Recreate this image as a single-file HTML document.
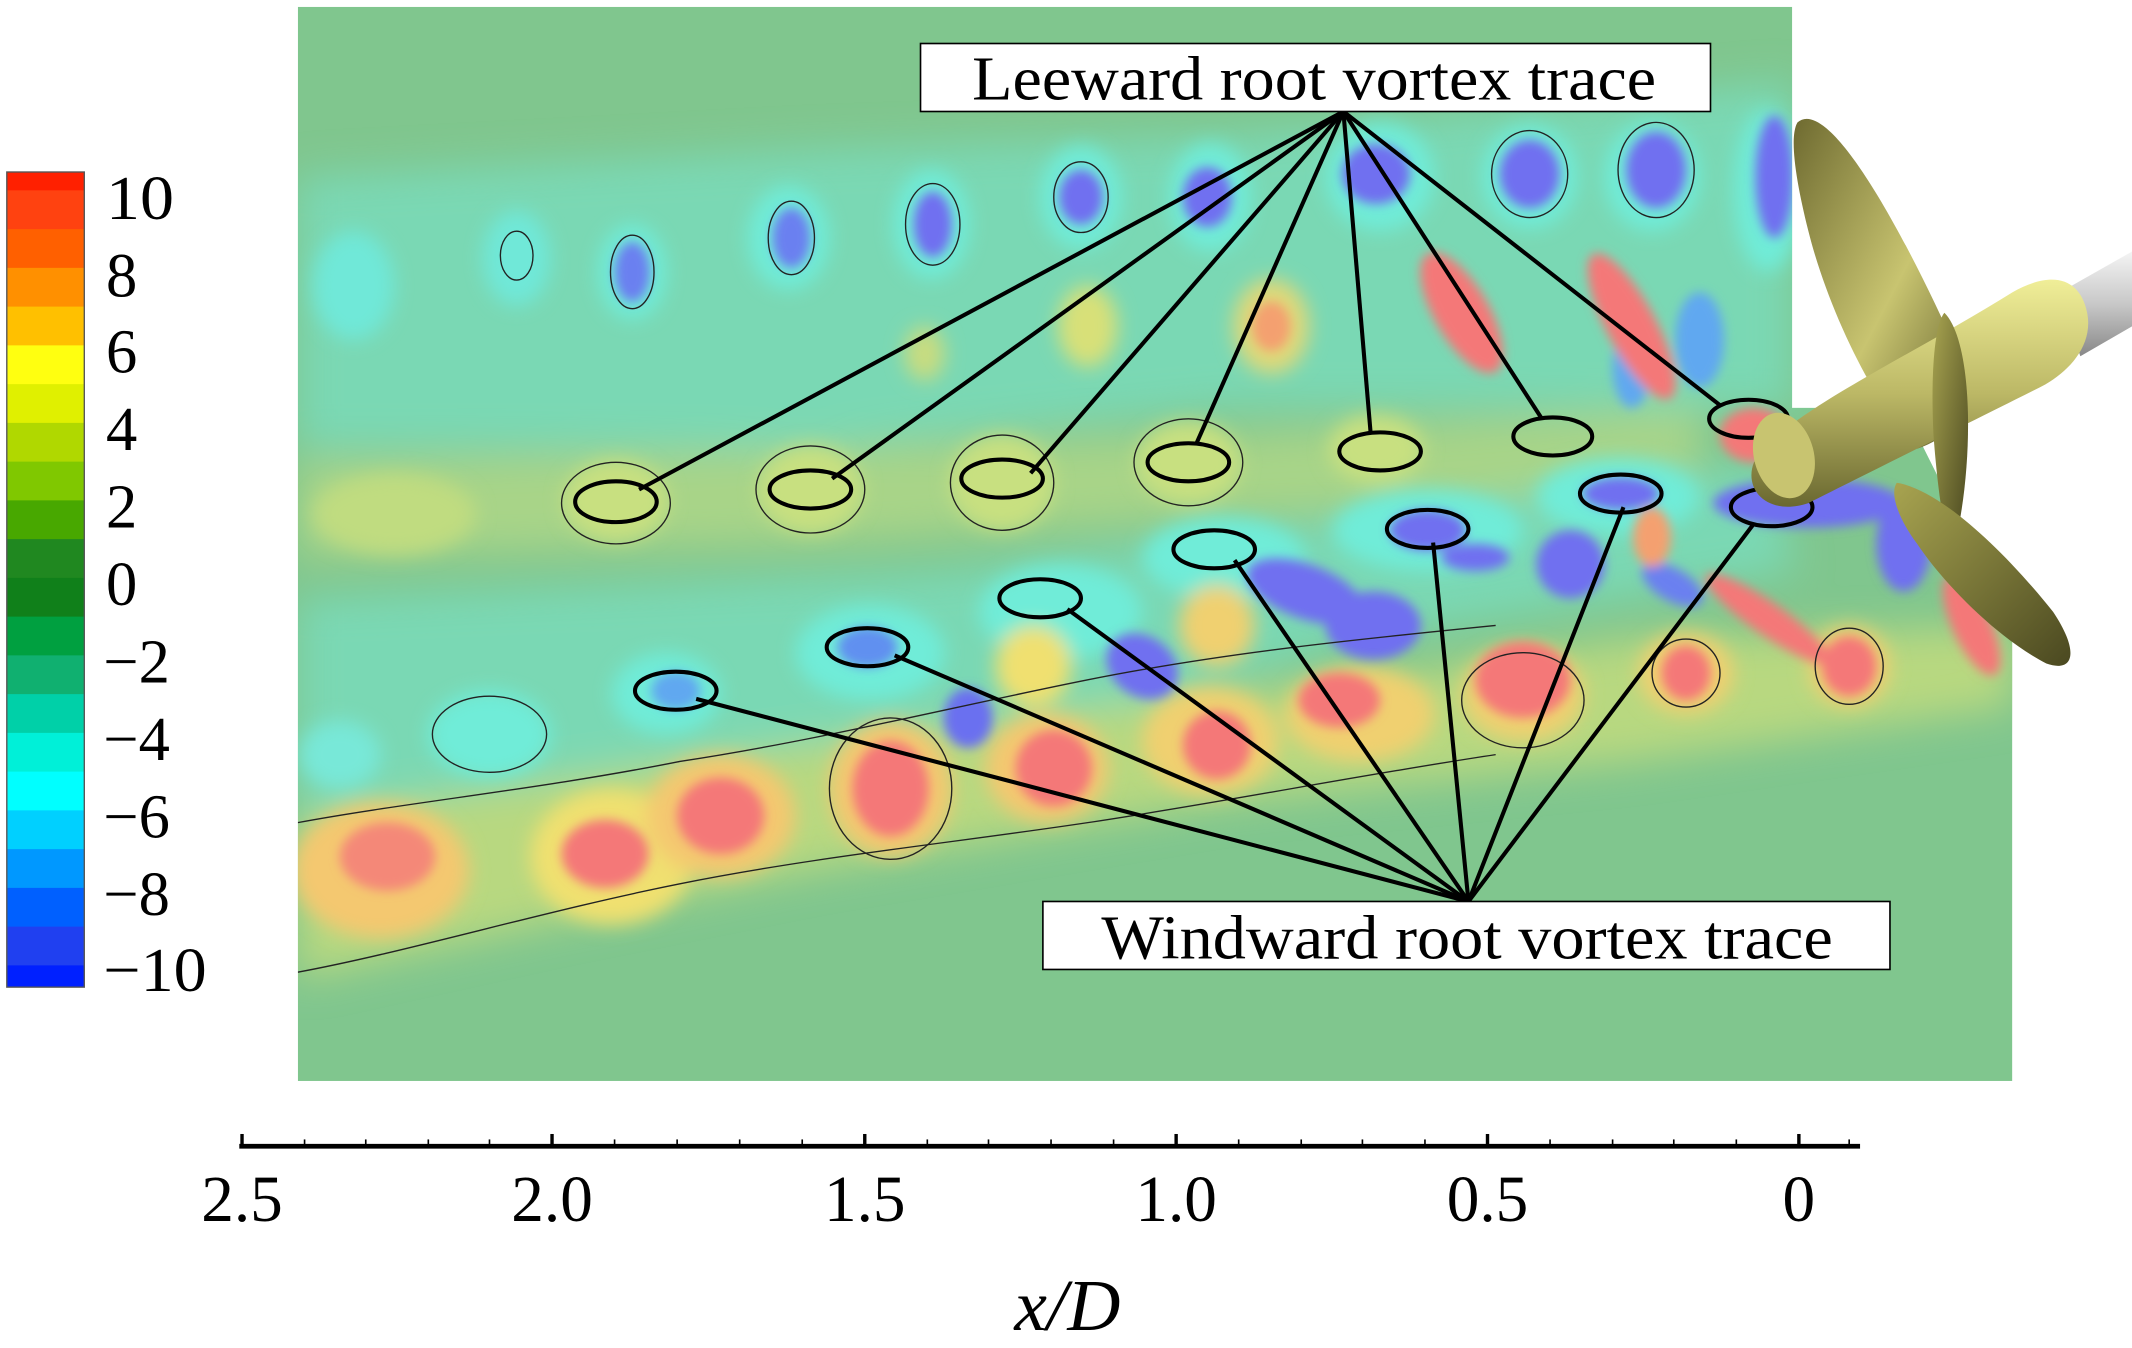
<!DOCTYPE html>
<html><head><meta charset="utf-8"><style>
html,body{margin:0;padding:0;background:#fff;}
svg{display:block;}
</style></head><body>
<svg width="2132" height="1348" viewBox="0 0 1568 991.4" xmlns="http://www.w3.org/2000/svg" font-family="Liberation Serif, serif">
<defs>
<filter id="b1" x="-50%" y="-50%" width="200%" height="200%"><feGaussianBlur stdDeviation="14"/></filter>
<filter id="b2" x="-50%" y="-50%" width="200%" height="200%"><feGaussianBlur stdDeviation="7"/></filter>
<filter id="b3" x="-50%" y="-50%" width="200%" height="200%"><feGaussianBlur stdDeviation="4"/></filter>
<clipPath id="fc"><polygon points="219,5 1318,5 1318,300 1400,300 1480,460 1480,795 219,795"/></clipPath>
<linearGradient id="hub" x1="0" y1="0" x2="0" y2="1"><stop offset="0" stop-color="#f0ee98"/><stop offset="0.5" stop-color="#bcb866"/><stop offset="1" stop-color="#6a6830"/></linearGradient>
<linearGradient id="bl" x1="0" y1="0" x2="1" y2="1"><stop offset="0" stop-color="#6e6a30"/><stop offset="0.55" stop-color="#c8c470"/><stop offset="1" stop-color="#5c5a28"/></linearGradient>
<linearGradient id="bl2" x1="0" y1="0" x2="1" y2="1"><stop offset="0" stop-color="#a8a450"/><stop offset="1" stop-color="#4a4820"/></linearGradient>
<linearGradient id="sh" x1="0" y1="0" x2="0" y2="1"><stop offset="0" stop-color="#f4f4f4"/><stop offset="0.5" stop-color="#c8c8c8"/><stop offset="1" stop-color="#888"/></linearGradient>
</defs>

<!-- colorbar -->
<g>
<rect x="5" y="126.5" width="57" height="14" fill="#ff2000"/>
<rect x="5" y="140" width="57" height="29" fill="#ff4210"/>
<rect x="5" y="168.5" width="57" height="29" fill="#ff6000"/>
<rect x="5" y="197" width="57" height="29" fill="#ff9000"/>
<rect x="5" y="225.5" width="57" height="29" fill="#ffc000"/>
<rect x="5" y="254" width="57" height="29" fill="#ffff10"/>
<rect x="5" y="282.5" width="57" height="29" fill="#e0f000"/>
<rect x="5" y="311" width="57" height="29" fill="#b0d800"/>
<rect x="5" y="339.5" width="57" height="29" fill="#80c800"/>
<rect x="5" y="368" width="57" height="29" fill="#48a800"/>
<rect x="5" y="396.5" width="57" height="29" fill="#208820"/>
<rect x="5" y="425" width="57" height="29" fill="#10801a"/>
<rect x="5" y="453.5" width="57" height="29" fill="#00a040"/>
<rect x="5" y="482" width="57" height="29" fill="#10b070"/>
<rect x="5" y="510.5" width="57" height="29" fill="#00d0a8"/>
<rect x="5" y="539" width="57" height="29" fill="#00f0d8"/>
<rect x="5" y="567.5" width="57" height="29" fill="#00ffff"/>
<rect x="5" y="596" width="57" height="29" fill="#00d0ff"/>
<rect x="5" y="624.5" width="57" height="29" fill="#0098ff"/>
<rect x="5" y="653" width="57" height="29" fill="#0060ff"/>
<rect x="5" y="681.5" width="57" height="29" fill="#2040f0"/>
<rect x="5" y="710" width="57" height="16" fill="#0020ff"/>
<rect x="5" y="126.5" width="57" height="599.5" fill="none" stroke="#555" stroke-width="1"/>
<g font-size="46" fill="#000">
<text x="78" y="161" textLength="50" lengthAdjust="spacingAndGlyphs">10</text>
<text x="78" y="218">8</text>
<text x="78" y="274">6</text>
<text x="78" y="331">4</text>
<text x="78" y="388">2</text>
<text x="78" y="445">0</text>
<text x="76" y="502">−2</text>
<text x="76" y="559">−4</text>
<text x="76" y="616">−6</text>
<text x="76" y="673">−8</text>
<text x="76" y="729" textLength="76" lengthAdjust="spacingAndGlyphs">−10</text>
</g>
</g>

<!-- field -->
<g clip-path="url(#fc)">
<rect x="219" y="5" width="1261" height="790" fill="#80c68e"/>
<g filter="url(#b1)">
<polygon points="219,130 600,110 900,100 1318,60 1318,300 1100,300 900,300 600,330 219,330" fill="#7ad8b4"/>
<polygon points="219,340 600,330 900,320 1250,300 1250,360 900,380 600,400 219,410" fill="#a8d488"/>
<polygon points="219,440 700,420 1000,380 1300,340 1320,420 1000,470 700,560 400,600 219,600" fill="#7ad8b4"/>
<polygon points="219,600 500,560 800,520 1000,500 1200,470 1480,460 1480,520 1200,560 900,590 600,640 400,680 219,720" fill="#b8d880"/>
</g>
<g filter="url(#b2)">
<ellipse cx="260" cy="210" rx="30" ry="40" fill="#70e8d8"/>
<ellipse cx="380" cy="190" rx="25" ry="35" fill="#70e8d8"/>
<ellipse cx="465" cy="200" rx="25" ry="35" fill="#70ecd8"/>
<ellipse cx="580" cy="175" rx="30" ry="38" fill="#70ecd8"/>
<ellipse cx="685" cy="165" rx="28" ry="40" fill="#70ecd8"/>
<ellipse cx="795" cy="145" rx="30" ry="38" fill="#70ecd8"/>
<ellipse cx="890" cy="145" rx="30" ry="40" fill="#70ecd8"/>
<ellipse cx="1015" cy="130" rx="40" ry="40" fill="#70ecd8"/>
<ellipse cx="1125" cy="130" rx="35" ry="38" fill="#70ecd8"/>
<ellipse cx="1215" cy="130" rx="35" ry="40" fill="#70ecd8"/>
<ellipse cx="1300" cy="140" rx="25" ry="60" fill="#70ecd8"/>
<ellipse cx="360" cy="540" rx="45" ry="32" fill="#70ecd8"/>
<ellipse cx="250" cy="555" rx="30" ry="25" fill="#78e8d8"/>
<ellipse cx="490" cy="510" rx="40" ry="30" fill="#70ecd8"/>
<ellipse cx="640" cy="480" rx="55" ry="35" fill="#70ecd8"/>
<ellipse cx="780" cy="450" rx="60" ry="35" fill="#70ecd8"/>
<ellipse cx="900" cy="410" rx="60" ry="30" fill="#70ecd8"/>
<ellipse cx="1050" cy="390" rx="70" ry="30" fill="#70ecd8"/>
<ellipse cx="1190" cy="365" rx="60" ry="28" fill="#70ecd8"/>
<ellipse cx="453" cy="368" rx="38" ry="30" fill="#c8e080"/>
<ellipse cx="596" cy="360" rx="38" ry="32" fill="#c8e080"/>
<ellipse cx="737" cy="355" rx="38" ry="35" fill="#c8e080"/>
<ellipse cx="874" cy="340" rx="38" ry="30" fill="#c8e080"/>
<ellipse cx="1012" cy="330" rx="35" ry="25" fill="#c8e080"/>
<ellipse cx="290" cy="378" rx="60" ry="30" fill="#c0dc80"/>
<ellipse cx="800" cy="240" rx="22" ry="30" fill="#d8e078"/>
<ellipse cx="935" cy="240" rx="28" ry="35" fill="#e0d878"/>
<ellipse cx="680" cy="260" rx="15" ry="20" fill="#c8dc80"/>
<ellipse cx="280" cy="640" rx="65" ry="50" fill="#f4c870"/>
<ellipse cx="450" cy="630" rx="60" ry="50" fill="#f0e070"/>
<ellipse cx="530" cy="600" rx="55" ry="45" fill="#f4c870"/>
<ellipse cx="655" cy="580" rx="45" ry="50" fill="#f4c870"/>
<ellipse cx="770" cy="565" rx="45" ry="40" fill="#f4c870"/>
<ellipse cx="890" cy="545" rx="50" ry="40" fill="#f0d070"/>
<ellipse cx="1000" cy="525" rx="55" ry="35" fill="#f0d070"/>
<ellipse cx="1120" cy="510" rx="45" ry="35" fill="#f0d070"/>
<ellipse cx="1240" cy="495" rx="35" ry="30" fill="#f0d070"/>
<ellipse cx="1360" cy="490" rx="30" ry="30" fill="#f0d070"/>
<ellipse cx="760" cy="490" rx="28" ry="30" fill="#f0e070"/>
<ellipse cx="895" cy="460" rx="28" ry="30" fill="#f0d070"/>
</g>
<g filter="url(#b3)">
<ellipse cx="465" cy="200" rx="13" ry="22" fill="#6a80f0"/>
<ellipse cx="582" cy="175" rx="14" ry="22" fill="#6a80f0"/>
<ellipse cx="686" cy="165" rx="14" ry="24" fill="#7070f0"/>
<ellipse cx="795" cy="145" rx="16" ry="20" fill="#7070f0"/>
<ellipse cx="888" cy="145" rx="18" ry="22" fill="#7070f0"/>
<ellipse cx="1012" cy="128" rx="25" ry="22" fill="#7070f0"/>
<ellipse cx="1125" cy="128" rx="22" ry="25" fill="#7070f0"/>
<ellipse cx="1218" cy="125" rx="22" ry="28" fill="#7070f0"/>
<ellipse cx="1305" cy="130" rx="14" ry="45" fill="#7070f0"/>
<ellipse cx="1200" cy="270" rx="14" ry="30" fill="#60a8f0"/>
<ellipse cx="1250" cy="250" rx="18" ry="35" fill="#60a8f0"/>
<ellipse cx="497" cy="508" rx="18" ry="14" fill="#60a8f0"/>
<ellipse cx="638" cy="476" rx="22" ry="15" fill="#6090f0"/>
<ellipse cx="712" cy="528" rx="18" ry="22" fill="#6a70f0"/>
<ellipse cx="840" cy="490" rx="28" ry="22" fill="#7070f0" transform="rotate(35 840 490)"/>
<ellipse cx="960" cy="435" rx="45" ry="20" fill="#7070f0" transform="rotate(20 960 435)"/>
<ellipse cx="1010" cy="460" rx="35" ry="25" fill="#7070f0"/>
<ellipse cx="1050" cy="390" rx="28" ry="15" fill="#7070f0"/>
<ellipse cx="1155" cy="415" rx="25" ry="25" fill="#7070f0"/>
<ellipse cx="1085" cy="410" rx="25" ry="10" fill="#7070f0"/>
<ellipse cx="1192" cy="363" rx="28" ry="12" fill="#7070f0"/>
<ellipse cx="1330" cy="370" rx="70" ry="18" fill="#7070f0"/>
<ellipse cx="1400" cy="400" rx="20" ry="35" fill="#7070f0"/>
<ellipse cx="1230" cy="430" rx="25" ry="12" fill="#6a80f0" transform="rotate(30 1230 430)"/>
<ellipse cx="1075" cy="230" rx="20" ry="50" fill="#f47878" transform="rotate(-30 1075 230)"/>
<ellipse cx="1200" cy="240" rx="18" ry="60" fill="#f47878" transform="rotate(-28 1200 240)"/>
<ellipse cx="1290" cy="320" rx="25" ry="20" fill="#f47878"/>
<ellipse cx="935" cy="240" rx="14" ry="18" fill="#f4a070"/>
<ellipse cx="285" cy="630" rx="35" ry="25" fill="#f48878"/>
<ellipse cx="445" cy="628" rx="32" ry="25" fill="#f47878"/>
<ellipse cx="530" cy="600" rx="32" ry="28" fill="#f47878"/>
<ellipse cx="655" cy="580" rx="28" ry="35" fill="#f47878"/>
<ellipse cx="775" cy="565" rx="28" ry="28" fill="#f47878"/>
<ellipse cx="895" cy="548" rx="25" ry="25" fill="#f47878"/>
<ellipse cx="985" cy="515" rx="30" ry="20" fill="#f47878"/>
<ellipse cx="1120" cy="500" rx="35" ry="28" fill="#f47878"/>
<ellipse cx="1240" cy="495" rx="18" ry="20" fill="#f47878"/>
<ellipse cx="1360" cy="490" rx="20" ry="22" fill="#f47878"/>
<ellipse cx="1300" cy="455" rx="55" ry="12" fill="#f47878" transform="rotate(35 1300 455)"/>
<ellipse cx="1450" cy="460" rx="14" ry="40" fill="#f47878" transform="rotate(-25 1450 460)"/>
<ellipse cx="1215" cy="395" rx="14" ry="22" fill="#f4a070"/>
</g>
<g fill="none" stroke="#222" stroke-width="1">
<path d="M219,605 C300,590 400,580 500,560 C600,545 700,520 800,500 C900,480 1000,470 1100,460"/>
<path d="M219,715 C300,700 400,670 500,650 C600,630 700,620 800,605 C900,590 1000,570 1100,555"/>
<ellipse cx="465" cy="200" rx="16" ry="27"/>
<ellipse cx="582" cy="175" rx="17" ry="27"/>
<ellipse cx="686" cy="165" rx="20" ry="30"/>
<ellipse cx="795" cy="145" rx="20" ry="26"/>
<ellipse cx="1125" cy="128" rx="28" ry="32"/>
<ellipse cx="1218" cy="125" rx="28" ry="35"/>
<ellipse cx="380" cy="188" rx="12" ry="18"/>
<ellipse cx="453" cy="370" rx="40" ry="30"/>
<ellipse cx="596" cy="360" rx="40" ry="32"/>
<ellipse cx="737" cy="355" rx="38" ry="35"/>
<ellipse cx="874" cy="340" rx="40" ry="32"/>
<ellipse cx="655" cy="580" rx="45" ry="52"/>
<ellipse cx="360" cy="540" rx="42" ry="28"/>
<ellipse cx="1360" cy="490" rx="25" ry="28"/>
<ellipse cx="1240" cy="495" rx="25" ry="25"/>
<ellipse cx="1120" cy="515" rx="45" ry="35"/>
</g>
</g>

<!-- labels/boxes -->
<g stroke="#000" stroke-width="3" fill="none">
<line x1="988" y1="82" x2="470" y2="360"/>
<line x1="988" y1="82" x2="612" y2="352"/>
<line x1="988" y1="82" x2="758" y2="348"/>
<line x1="988" y1="82" x2="880" y2="326"/>
<line x1="988" y1="82" x2="1008" y2="318"/>
<line x1="988" y1="82" x2="1134" y2="308"/>
<line x1="988" y1="82" x2="1265" y2="298"/>
<line x1="1080" y1="663" x2="512" y2="514"/>
<line x1="1080" y1="663" x2="658" y2="482"/>
<line x1="1080" y1="663" x2="785" y2="448"/>
<line x1="1080" y1="663" x2="908" y2="412"/>
<line x1="1080" y1="663" x2="1054" y2="399"/>
<line x1="1080" y1="663" x2="1194" y2="373"/>
<line x1="1080" y1="663" x2="1290" y2="385"/>
<ellipse cx="453" cy="369" rx="30" ry="15"/>
<ellipse cx="596" cy="360" rx="30" ry="14"/>
<ellipse cx="737" cy="352" rx="30" ry="14"/>
<ellipse cx="874" cy="340" rx="30" ry="14"/>
<ellipse cx="1015" cy="332" rx="30" ry="14"/>
<ellipse cx="1142" cy="321" rx="29" ry="14"/>
<ellipse cx="1286" cy="308" rx="29" ry="14"/>
<ellipse cx="497" cy="508" rx="30" ry="14"/>
<ellipse cx="638" cy="476" rx="30" ry="14"/>
<ellipse cx="765" cy="440" rx="30" ry="14"/>
<ellipse cx="893" cy="404" rx="30" ry="14"/>
<ellipse cx="1050" cy="389" rx="30" ry="14"/>
<ellipse cx="1192" cy="363" rx="30" ry="14"/>
<ellipse cx="1303" cy="373" rx="30" ry="14"/>
</g>
<rect x="677" y="32" width="581" height="50" fill="#fff" stroke="#000" stroke-width="1.2"/>
<text x="715" y="73" font-size="46" textLength="503" lengthAdjust="spacingAndGlyphs">Leeward root vortex trace</text>
<rect x="767" y="663" width="623" height="50" fill="#fff" stroke="#000" stroke-width="1.2"/>
<text x="810" y="705" font-size="46" textLength="538" lengthAdjust="spacingAndGlyphs">Windward root vortex trace</text>

<!-- propeller -->
<g>
<polygon points="1515,215 1568,185 1568,240 1530,262" fill="url(#sh)"/>
<path d="M1322,90 C1345,70 1400,170 1440,260 C1455,295 1440,320 1410,330 C1380,300 1345,230 1330,170 C1320,130 1316,100 1322,90 Z" fill="url(#bl)"/>
<path d="M1290,340 C1310,305 1400,265 1480,215 C1510,198 1530,205 1535,230 C1540,255 1520,275 1500,285 C1430,320 1360,355 1330,370 C1300,380 1282,360 1290,340 Z" fill="url(#hub)"/>
<path d="M1430,230 C1450,250 1452,330 1440,390 C1432,420 1425,360 1422,320 C1420,280 1422,240 1430,230 Z" fill="url(#bl2)"/>
<path d="M1395,355 C1425,360 1470,400 1510,450 C1530,480 1525,495 1505,488 C1470,470 1430,430 1410,400 C1395,380 1390,362 1395,355 Z" fill="url(#bl2)"/>
<ellipse cx="1312" cy="335" rx="22" ry="32" fill="#c8c470" transform="rotate(-15 1312 335)"/>
</g>

<!-- axis -->
<g stroke="#000">
<line x1="176" y1="843" x2="1368" y2="843" stroke-width="3.5"/>
<g stroke-width="2.5">
<line x1="178" y1="843" x2="178" y2="834"/><line x1="406" y1="843" x2="406" y2="834"/><line x1="636" y1="843" x2="636" y2="834"/><line x1="865" y1="843" x2="865" y2="834"/><line x1="1094" y1="843" x2="1094" y2="834"/><line x1="1323" y1="843" x2="1323" y2="834"/>
</g>
<g stroke-width="1.2">
<line x1="224" y1="843" x2="224" y2="838"/><line x1="269" y1="843" x2="269" y2="838"/><line x1="315" y1="843" x2="315" y2="838"/><line x1="360" y1="843" x2="360" y2="838"/>
<line x1="452" y1="843" x2="452" y2="838"/><line x1="498" y1="843" x2="498" y2="838"/><line x1="544" y1="843" x2="544" y2="838"/><line x1="590" y1="843" x2="590" y2="838"/>
<line x1="682" y1="843" x2="682" y2="838"/><line x1="727" y1="843" x2="727" y2="838"/><line x1="773" y1="843" x2="773" y2="838"/><line x1="819" y1="843" x2="819" y2="838"/>
<line x1="911" y1="843" x2="911" y2="838"/><line x1="957" y1="843" x2="957" y2="838"/><line x1="1002" y1="843" x2="1002" y2="838"/><line x1="1048" y1="843" x2="1048" y2="838"/>
<line x1="1140" y1="843" x2="1140" y2="838"/><line x1="1186" y1="843" x2="1186" y2="838"/><line x1="1231" y1="843" x2="1231" y2="838"/><line x1="1277" y1="843" x2="1277" y2="838"/>
<line x1="1360" y1="843" x2="1360" y2="838"/>
</g>
</g>
<g font-size="48" text-anchor="middle">
<text x="178" y="898">2.5</text>
<text x="406" y="898">2.0</text>
<text x="636" y="898">1.5</text>
<text x="865" y="898">1.0</text>
<text x="1094" y="898">0.5</text>
<text x="1323" y="898">0</text>
</g>
<text x="785" y="978" font-size="54" font-style="italic" text-anchor="middle">x/D</text>
</svg>
</body></html>
